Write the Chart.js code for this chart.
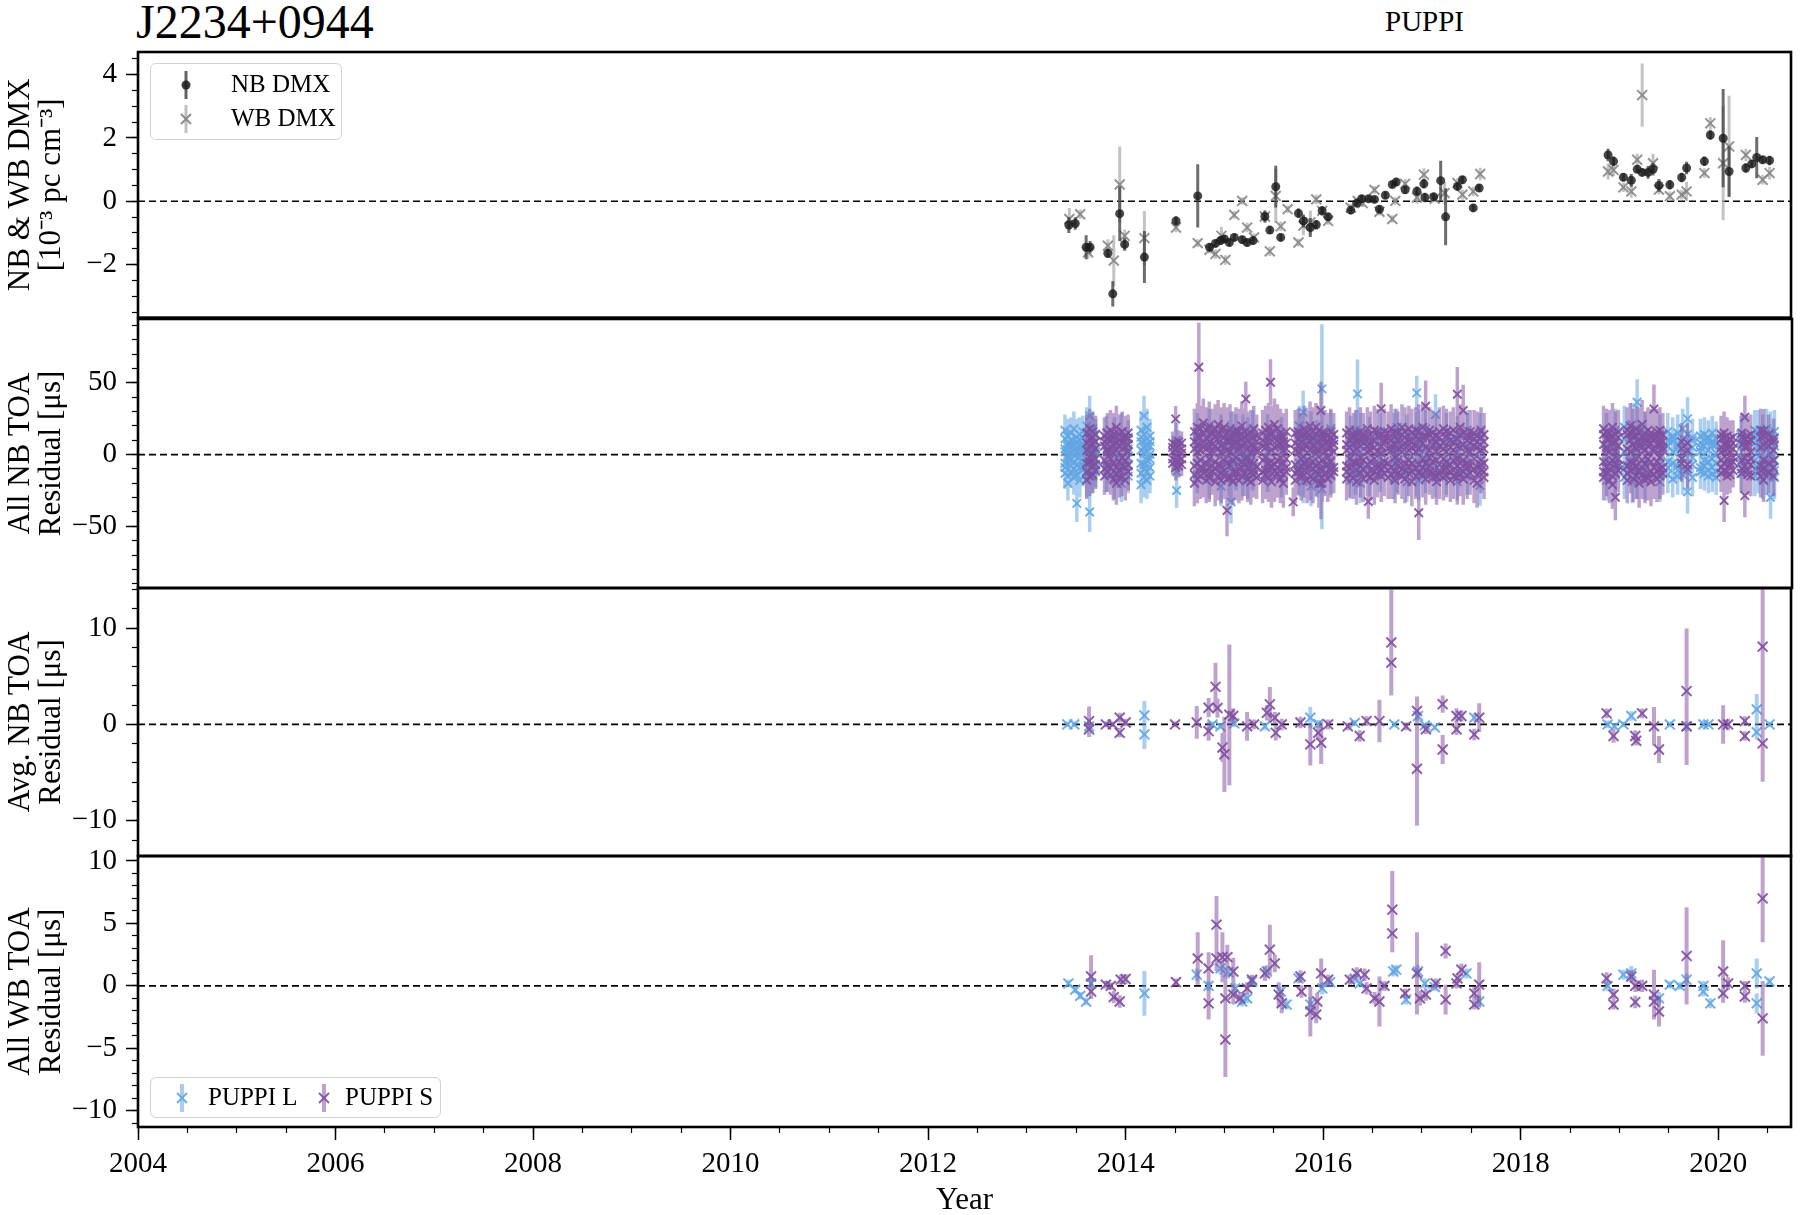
<!DOCTYPE html>
<html>
<head>
<meta charset="utf-8">
<script src="https://cdn.jsdelivr.net/npm/chart.js@4.4.1/dist/chart.umd.min.js"></script>
<style>
  body { margin: 0; background: #fff; width: 1800px; height: 1215px; position: relative; overflow: hidden; font-family: "Liberation Serif", serif; }
  canvas { position: absolute; left: 0; }
  .lbl { position: absolute; white-space: nowrap; color: #000; line-height: 1; }
  .legend { position: absolute; box-sizing: border-box; border: 1.5px solid #d2d2d2; border-radius: 6px; background: rgba(255,255,255,0.85); z-index: 5; }
  .legend span { position: absolute; font-size: 25px; line-height: 25px; white-space: nowrap; }
  .legend svg { position: absolute; left: 0; top: 0; }
</style>
</head>
<body>
<div class="lbl" style="left:136px; top:-2px; font-size:48px;">J2234+0944</div>
<div class="lbl" style="left:1385px; top:7px; font-size:29px;">PUPPI</div>

<canvas id="p1"></canvas>
<canvas id="p2"></canvas>
<canvas id="p3"></canvas>
<canvas id="p4"></canvas>

<div class="legend" style="left:150px; top:63px; width:192px; height:77px;">
  <svg width="192" height="77">
    <line x1="35" y1="7" x2="35" y2="35" stroke="rgba(60,60,60,0.8)" stroke-width="3"/>
    <circle cx="35" cy="21" r="4.5" fill="rgba(25,25,25,0.85)"/>
    <line x1="35" y1="41" x2="35" y2="69" stroke="rgba(175,175,175,0.8)" stroke-width="3"/>
    <path d="M30 50 L40 60 M40 50 L30 60" stroke="rgba(130,130,130,0.9)" stroke-width="2"/>
  </svg>
  <span style="left:80px; top:7px;">NB DMX</span>
  <span style="left:80px; top:41px;">WB DMX</span>
</div>

<div class="legend" style="left:150px; top:1077px; width:291px; height:41px;">
  <svg width="291" height="41">
    <line x1="31" y1="6" x2="31" y2="34" stroke="rgba(98,166,227,0.55)" stroke-width="4"/>
    <path d="M26 15 L36 25 M36 15 L26 25" stroke="rgba(98,166,227,0.9)" stroke-width="2"/>
    <line x1="173" y1="6" x2="173" y2="34" stroke="rgba(135,85,165,0.55)" stroke-width="4"/>
    <path d="M168 15 L178 25 M178 15 L168 25" stroke="rgba(128,80,160,0.9)" stroke-width="2"/>
  </svg>
  <span style="left:57px; top:6px;">PUPPI L</span>
  <span style="left:194px; top:6px;">PUPPI S</span>
</div>

<script>
// ---- panel 1: DMX (10^-3 pc cm^-3) ----
const dmxNB_t = [2013.425, 2013.49, 2013.60, 2013.64, 2013.82, 2013.87, 2013.94, 2013.99, 2014.19, 2014.51,
  2014.73, 2014.85, 2014.91, 2014.96, 2015.00, 2015.05, 2015.10, 2015.18, 2015.23, 2015.29,
  2015.41, 2015.46, 2015.52, 2015.57, 2015.75, 2015.80, 2015.87, 2015.93, 2015.99, 2016.05,
  2016.28, 2016.34, 2016.39, 2016.46, 2016.52, 2016.57, 2016.63, 2016.70, 2016.74, 2016.83,
  2016.95, 2017.02, 2017.03, 2017.12, 2017.19, 2017.24, 2017.36, 2017.41, 2017.52, 2017.58,
  2018.885, 2018.94, 2019.04, 2019.12, 2019.18, 2019.23, 2019.29, 2019.34, 2019.40, 2019.51,
  2019.63, 2019.68, 2019.86, 2019.92, 2020.05, 2020.11, 2020.28, 2020.34, 2020.39, 2020.45, 2020.52];
const dmxNB_v = [-0.75, -0.70, -1.45, -1.45, -1.64, -2.92, -0.39, -1.36, -1.76, -0.62,
  0.17, -1.45, -1.33, -1.24, -1.19, -1.30, -1.14, -1.21, -1.30, -1.24,
  -0.48, -0.91, 0.46, -1.14, -0.38, -0.62, -0.83, -0.74, -0.30, -0.49,
  -0.28, -0.06, 0.08, 0.08, 0.06, -0.25, 0.19, 0.53, 0.61, 0.36,
  0.32, 0.55, 0.12, 0.14, 0.65, -0.49, 0.47, 0.68, -0.21, 0.42,
  1.46, 1.26, 0.76, 0.66, 1.01, 0.91, 0.91, 1.01, 0.50, 0.52,
  0.75, 1.05, 1.26, 2.09, 1.99, 0.94, 1.05, 1.18, 1.38, 1.31, 1.29];
const dmxNB_e = [0.25, 0.2, 0.38, 0.2, 0.15, 0.4, 0.86, 0.2, 0.82, 0.15,
  1.0, 0.12, 0.12, 0.12, 0.12, 0.12, 0.12, 0.12, 0.12, 0.12,
  0.2, 0.12, 0.66, 0.12, 0.15, 0.2, 0.3, 0.15, 0.15, 0.12,
  0.12, 0.12, 0.12, 0.1, 0.1, 0.12, 0.12, 0.1, 0.12, 0.12,
  0.15, 0.15, 0.15, 0.12, 0.63, 0.9, 0.12, 0.12, 0.12, 0.12,
  0.2, 0.15, 0.12, 0.2, 0.12, 0.12, 0.2, 0.2, 0.2, 0.15,
  0.15, 0.2, 0.15, 0.15, 1.55, 0.8, 0.15, 0.12, 0.65, 0.12, 0.15];

const dmxWB_t = [2013.43, 2013.54, 2013.62, 2013.82, 2013.88, 2013.94, 2013.99, 2014.19, 2014.51, 2014.73,
  2014.85, 2014.91, 2014.97, 2015.01, 2015.10, 2015.18, 2015.23, 2015.30, 2015.41, 2015.46,
  2015.52, 2015.57, 2015.64, 2015.75, 2015.80, 2015.87, 2015.93, 2015.99, 2016.05, 2016.28,
  2016.35, 2016.40, 2016.52, 2016.57, 2016.70, 2016.73, 2016.83, 2016.95, 2017.02, 2017.13,
  2017.23, 2017.36, 2017.41, 2017.52, 2017.59, 2018.885, 2018.94, 2019.04, 2019.12, 2019.18,
  2019.23, 2019.34, 2019.40, 2019.51, 2019.63, 2019.68, 2019.86, 2019.92, 2020.05, 2020.11,
  2020.28, 2020.45, 2020.52];
const dmxWB_v = [-0.56, -0.41, -1.61, -1.40, -1.87, 0.53, -1.09, -1.16, -0.83, -1.32,
  -1.53, -1.66, -1.09, -1.85, -0.43, 0.01, -0.83, -1.14, -0.48, -1.58,
  0.17, -0.79, -0.25, -1.30, -0.77, -0.67, 0.06, -0.30, -0.62, -0.20,
  0.01, -0.06, 0.36, -0.33, -0.56, 0.01, 0.55, 0.12, 0.84, 0.08,
  0.26, 0.58, 0.21, 0.31, 0.86, 0.94, 0.99, 0.44, 0.31, 1.31,
  3.35, 1.20, 0.37, 0.16, 0.21, 0.31, 0.89, 2.46, 1.20, 1.73,
  1.46, 0.68, 0.89];
const dmxWB_e = [0.35, 0.15, 0.2, 0.2, 0.8, 1.2, 0.2, 0.85, 0.15, 0.12,
  0.12, 0.15, 0.28, 0.15, 0.12, 0.12, 0.15, 0.12, 0.15, 0.15,
  0.85, 0.15, 0.12, 0.12, 0.3, 0.37, 0.15, 0.12, 0.12, 0.12,
  0.12, 0.12, 0.12, 0.12, 0.12, 0.12, 0.15, 0.2, 0.2, 0.12,
  0.35, 0.15, 0.15, 0.15, 0.2, 0.25, 0.2, 0.15, 0.2, 0.2,
  1.0, 0.3, 0.15, 0.15, 0.15, 0.3, 0.15, 0.2, 1.8, 1.6,
  0.2, 0.15, 0.2];

// ---- panel 2: all narrowband TOA residuals (us), grouped by epoch ----
const nbL_t = [2013.38, 2013.41, 2013.44, 2013.47, 2013.50, 2013.53, 2013.56, 2013.60, 2013.63, 2013.66, 2013.69,
  2013.80, 2013.88, 2013.95, 2014.02,
  2014.15, 2014.18, 2014.21, 2014.24,
  2014.51,
  2014.72, 2014.84, 2014.96, 2015.04, 2015.06, 2015.11, 2015.18, 2015.23, 2015.28, 2015.43, 2015.57,
  2015.75, 2015.79, 2015.87, 2015.93, 2015.98, 2016.07,
  2016.27, 2016.32, 2016.37, 2016.46, 2016.57, 2016.71, 2016.74, 2016.84, 2016.94, 2016.96, 2017.03, 2017.13, 2017.24, 2017.35, 2017.45, 2017.58,
  2018.86, 2018.95, 2019.04, 2019.12, 2019.17, 2019.25, 2019.40, 2019.48, 2019.53, 2019.58, 2019.63, 2019.68, 2019.73,
  2019.81, 2019.85, 2019.89, 2019.93, 2019.97, 2020.22, 2020.36, 2020.39, 2020.44, 2020.48, 2020.52, 2020.56];
const nbL_e = [11, 12, 11, 12, 13, 12, 11, 13, 14, 12, 11,
  12, 13, 13, 12,
  13, 14, 13, 12,
  12,
  13, 14, 14, 13, 15, 13, 14, 13, 14, 13, 14,
  14, 15, 14, 13, 16, 13,
  13, 14, 14, 13, 13, 14, 13, 14, 14, 14, 13, 14, 13, 13, 14, 14,
  14, 15, 15, 15, 16, 15, 14, 13, 13, 13, 14, 15, 13, 12, 12, 12, 12, 12,
  13, 14, 15, 14, 14, 15, 15];
const nbL_r = [
  [4, -6, 11, -13, 2, 17, -9], [-3, 8, -15, 6, 13, -1, -20], [10, -8, 1, 15, -12, -4, 7], [-5, 3, 18, -10, 6, -16, 0],
  [2, -34, 12, -7, 9, -14, 5], [-9, 6, -2, 14, -18, 10, 1], [7, -11, 3, -5, 16, -8, 12], [-4, 9, -13, 5, 20, -17, 1],
  [27, -40, 8, -12, 3, 14, -6], [-7, 12, -2, 6, -15, 18, 0], [5, -9, 14, -3, 9, -12, 2],
  [-6, 10, -14, 3, 15, -9], [8, -12, 2, 13, -5, -18], [-3, 16, -10, 6, -20, 11], [4, -8, 12, -15, 7, -2],
  [9, -13, 3, 17, -6, -21, 12], [27, -7, 14, -16, 5, -10, 1], [-4, 11, -18, 6, 19, -12, 2], [6, -9, 13, -3, -15, 9, 0],
  [-25, 8, -12, 4, 10, -5],
  [5, -14, 10, -6, 16], [-9, 13, -3, 18, -17], [7, -10, 2, 14, -22], [-5, 11, -16, 4, 9], [-33, 6, 12, -8, 15],
  [3, -12, 15, -5, 8], [-7, 14, -2, 10, -15], [9, -4, 13, -18, 1], [-11, 6, 17, -9, 3], [6, -13, 2, 15, -6], [-8, 12, -16, 5, 9],
  [10, -6, 14, -15, 2, 20], [29.5, -8, 4, -19, 12, -3], [-5, 13, -22, 7, -10, 16], [8, -14, 3, 11, -17, 1],
  [-12, 6, 14, -24, 2], [-4, 10, -15, 5, 18, -9],
  [7, -11, 14, -3, 9, -18], [-6, 12, -14, 3, 17, -9], [9, -5, 15, -12, 2, -20], [-8, 4, 13, -16, 7, 10],
  [5, -13, 11, -2, 16, -7], [-10, 8, -4, 15, -17, 3], [12, -6, 2, -14, 9, 19], [-3, 14, -11, 6, -19, 10],
  [8, -9, 16, -5, 13, -15], [-12, 5, 10, -18, 3, 17], [4, -14, 12, -7, 18, -3], [28, -10, 7, -16, 2, 13],
  [-6, 11, -15, 5, 16, -11], [9, -4, 14, -13, 1, -19], [-8, 13, -2, 17, -14, 6], [-21.6, 7, 12, -9, 3, 15],
  [6, -12, 15, -5, 10, -18], [-9, 4, 17, -14, 8, -3], [11, -7, 2, -16, 19, -10], [-4, 14, -12, 7, -19, 21],
  [36.5, -8, 10, -15, 3, 16], [-6, 12, -17, 4, 15, -10], [8, -13, 3, 14, -7, -19], [-5, 10, -14, 6, 16, -9],
  [9, -6, 13, -17, 2, 11], [-11, 4, 15, -8, 7, -15], [6, -14, 11, -3, 18, -10], [24.9, -26, 8, -12, 14, 1],
  [-7, 12, -16, 5, 10, -2], [5, -9, 13, -12, 2, 8], [-8, 6, 14, -4, -13, 10], [10, -5, 3, -11, 12, -15],
  [-3, 9, -14, 7, 15, -9], [7, -12, 1, 11, -6, -16], [-6, 10, -13, 5, 14, -2], [8, -15, 12, -4, 17, -10],
  [-12, 5, 16, -9, 2, 13], [11, -7, -17, 6, 14, -3], [-5, 13, -10, 3, 18, -14], [-29.7, 9, -6, 15, 1, -12],
  [6, -11, 12, -4, 16, -16]];
// single L TOAs with their own large errors
const nbLx_t = [2015.98, 2015.98, 2016.34, 2016.94];
const nbLx_v = [45.8, -20, 42.3, 43];
const nbLx_e = [45, 32, 24, 12];

const nbS_t = [2013.60, 2013.63, 2013.66, 2013.69,
  2013.78, 2013.81, 2013.84, 2013.87, 2013.90, 2013.93, 2013.96, 2013.99, 2014.02,
  2014.47, 2014.50, 2014.53, 2014.56,
  2014.69, 2014.72, 2014.75, 2014.78, 2014.81, 2014.84, 2014.87, 2014.90, 2014.93, 2014.96, 2014.99,
  2015.02, 2015.05, 2015.08, 2015.11, 2015.14, 2015.17, 2015.20, 2015.23, 2015.26, 2015.29, 2015.32,
  2015.38, 2015.41, 2015.44, 2015.47, 2015.50, 2015.53, 2015.56, 2015.59, 2015.62,
  2015.71, 2015.74, 2015.77, 2015.80, 2015.83, 2015.86, 2015.89, 2015.92, 2015.95, 2015.98, 2016.01, 2016.04, 2016.07, 2016.10,
  2016.23, 2016.26, 2016.30, 2016.33, 2016.37, 2016.40, 2016.44, 2016.47, 2016.51, 2016.54, 2016.58, 2016.61, 2016.65, 2016.68,
  2016.72, 2016.75, 2016.79, 2016.82, 2016.86, 2016.89, 2016.93, 2016.96, 2017.00, 2017.03, 2017.07, 2017.10, 2017.14, 2017.17,
  2017.21, 2017.24, 2017.28, 2017.31, 2017.35, 2017.38, 2017.41, 2017.45, 2017.48, 2017.52, 2017.55, 2017.59, 2017.62,
  2018.83, 2018.86, 2018.89, 2018.92, 2018.95, 2018.98,
  2019.07, 2019.10, 2019.13, 2019.16, 2019.19, 2019.22, 2019.25, 2019.28, 2019.31, 2019.34, 2019.37, 2019.40, 2019.43,
  2019.62, 2019.68,
  2020.02, 2020.05, 2020.08, 2020.11, 2020.14,
  2020.23, 2020.26, 2020.29, 2020.32,
  2020.42, 2020.45, 2020.50, 2020.55];
const nbS_e = [13, 14, 13, 13,
  13, 14, 14, 15, 15, 14, 14, 14, 13,
  8, 9, 8, 8,
  16, 17, 16, 17, 16, 17, 16, 17, 17, 16, 17,
  18, 17, 16, 16, 16, 17, 16, 16, 16, 16, 15,
  16, 17, 17, 18, 18, 17, 17, 17, 16,
  16, 16, 16, 16, 16, 17, 17, 17, 17, 17, 16, 16, 16, 15,
  15, 16, 15, 16, 17, 16, 15, 16, 17, 16, 18, 16, 15, 17,
  16, 15, 16, 17, 16, 17, 16, 19, 16, 18, 16, 15, 16, 17,
  16, 16, 15, 16, 19, 16, 18, 16, 15, 16, 17, 16, 15,
  16, 16, 16, 17, 16, 15,
  16, 16, 16, 16, 17, 17, 16, 16, 17, 17, 16, 16, 15,
  13, 14,
  13, 15, 13, 13, 12,
  14, 15, 14, 14,
  15, 15, 14, 14];
const nbS_r = [
  [8, -12, 3, 15, -6, -18], [-5, 11, -15, 6, 18, -2], [12, -8, 1, -14, 7, 16], [-3, 9, -11, 14, -7, 4],
  [6, -10, 13, -4, 9, -15], [-8, 4, 15, -12, 2, 11], [10, -14, 5, -3, 17, -9], [-6, 12, -17, 7, 1, 14],
  [3, -9, 19, -13, 8, -20], [-11, 6, 14, -5, -16, 10], [9, -2, 16, -15, 4, -8], [-4, 13, -9, 5, -18, 12],
  [7, -12, 2, 11, -7, 15],
  [2, -6, 8, -3, 5], [24.9, -4, 7, -9, 3], [-5, 6, -2, 9, -8], [4, -7, 1, 8, -3],
  [9, -14, 4, 16, -8, -20], [-6, 13, -17, 7, 2, 19], [12, -9, 3, -15, 18, -4], [-10, 5, 15, -13, 8, 22],
  [4, -18, 11, -6, 17, -11], [-13, 9, -3, 20, -16, 6], [7, -8, 16, -12, 2, 14], [-5, 12, -19, 6, 18, -10],
  [11, -15, 4, 14, -7, 21], [-8, 6, -13, 17, 1, -18], [5, -11, 12, -4, 19, -14],
  [-39, 9, -6, 15, -17, 3], [13, -7, 2, -16, 10, 18], [-4, 14, -12, 6, -19, 11], [8, -13, 17, -2, 9, -16],
  [-10, 5, 13, -18, 3, 16], [6, -15, 11, -5, 20, -9], [-7, 12, -3, 16, -13, 8], [10, -9, 4, -17, 14, -2],
  [-5, 15, -12, 7, 1, -19], [12, -6, 18, -11, 5, -14], [-9, 4, 13, -16, 9, 2],
  [6, -12, 15, -4, -18, 10], [-11, 8, -2, 17, -14, 5], [9, -16, 12, -6, 19, -10], [-5, 14, -19, 3, 16, -8],
  [11, -7, 5, -15, 21, -12], [-13, 10, -4, 18, -9, 6], [7, -17, 13, -2, 15, -11], [-6, 12, -14, 9, 3, -20],
  [4, -9, 16, -12, 8, -3],
  [8, -13, 3, 15, -7, -18], [-10, 6, 16, -12, 2, 11], [5, -8, 13, -16, 9, -3], [-6, 14, -11, 4, 18, -14],
  [12, -4, 7, -18, 15, -9], [-8, 10, -15, 3, 13, 20], [6, -17, 11, -5, 16, -10], [-12, 4, 14, -8, 19, 1],
  [9, -6, 17, -14, 3, -20], [-4, 12, -10, 6, -16, 15], [11, -13, 2, 15, -7, 8], [-7, 9, -17, 4, 13, -2],
  [5, -11, 12, -5, 16, -14], [-9, 7, 14, -12, 2, 10],
  [7, -12, 3, 15, -8, -17], [-9, 10, -14, 5, 17, -3], [12, -5, 8, -16, 2, 14], [-6, 15, -11, 4, -19, 9],
  [10, -8, 16, -13, 6, -2], [-4, 11, -17, 8, 13, -10], [6, -14, 2, 18, -7, 12], [-11, 7, 14, -5, -16, 3],
  [9, -3, 17, -12, 5, -18], [-7, 13, -9, 2, 16, -14], [32, -10, 6, 14, -15, 1], [-5, 9, -13, 16, -8, 11],
  [11, -16, 4, -6, 15, -11], [-9, 6, 18, -14, 3, 10],
  [7, -12, 13, -2, -18, 16], [-13, 4, 10, -8, 15, -4], [5, -15, 14, -10, 2, 19], [-6, 12, -17, 8, 16, -11],
  [10, -4, 3, -13, 18, -8], [-12, 9, 15, -6, -19, 5], [6, -10, 13, -15, 2, 17], [-40.6, 11, -7, 16, 4, -13],
  [8, -14, 12, -3, 19, -9], [33.7, -6, 5, -17, 13, -11], [-8, 14, -12, 3, 17, -2], [11, -5, 7, -16, 15, -13],
  [-4, 13, -15, 9, 2, -19], [6, -11, 16, -7, 12, -14],
  [-10, 8, -3, 18, -16, 4], [13, -9, 2, -14, 16, -5], [-7, 15, -12, 5, 10, -18], [9, -4, 17, -11, 3, -15],
  [42, -8, 11, -16, 6, -2], [-13, 5, 14, -6, 19, -10], [30.7, -12, 7, -4, 15, -17], [-6, 10, -15, 3, 13, -9],
  [8, -13, 16, -8, 2, 12], [-10, 6, -18, 11, 15, -3], [5, -9, 13, -14, 9, -20], [-4, 12, -11, 17, -7, 3],
  [9, -6, 14, -12, 4, -16],
  [7, -12, 14, -5, 18, -16], [-9, 5, 16, -13, 3, 11], [11, -6, 2, -18, 15, -10], [-4, 13, -15, 8, 19, -21],
  [-29.7, 9, -7, 14, 2, -13], [6, -11, 12, -3, 16, -8],
  [-8, 14, -13, 4, 17, -18], [10, -5, 15, -11, 2, 20], [-6, 12, -17, 7, -10, 16], [13, -8, 4, -15, 18, -3],
  [-11, 6, 16, -12, 9, -20], [5, -14, 12, -4, 21, -9], [-7, 11, -18, 3, 14, 8], [9, -3, 17, -13, 6, -16],
  [-12, 8, -5, 15, -19, 12], [31.8, -9, 4, -14, 11, 2], [-5, 13, -11, 7, 16, -17], [8, -15, 10, -2, 17, -10],
  [-9, 5, 14, -13, 3, 9],
  [4, -6, 9, -3], [-7, 8, 3, -10],
  [5, -9, 11, -4, 14, -13, 2], [-32, 7, -6, 12, -11, 3, 15], [9, -3, 13, -12, 4, -15, 7], [-6, 10, -14, 2, 11, -8, 5],
  [4, -11, 8, -5, 12, -2],
  [7, -10, 12, -4, 15, -13], [26, -28.6, 5, -8, 11, -2], [-5, 13, -14, 6, 9, -11], [10, -7, 2, -15, 14, -3],
  [-8, 12, -11, 5, 17, -15], [16.7, -10, 7, -4, 13, -18], [6, -13, 14, -6, 10, -12], [-4, 9, -15, 11, 3, -9]];
const nbSx_t = [2014.735, 2015.21, 2015.46, 2015.69, 2015.97, 2015.97, 2016.45];
const nbSx_v = [60.9, 38.8, 50.4, -33, 30.7, -20, -32.7];
const nbSx_e = [31, 12, 16, 10, 20, 25, 12];

// ---- panel 3: epoch-averaged narrowband residuals (us) ----
const avgL_t = [2013.41, 2013.48, 2013.63, 2014.19, 2014.19, 2014.88, 2014.96, 2015.10, 2015.41, 2015.87,
  2015.95, 2016.32, 2016.72, 2016.96, 2017.03, 2017.13, 2017.53, 2018.88, 2018.95, 2019.04,
  2019.12, 2019.51, 2019.68, 2019.85, 2019.90, 2020.39, 2020.39, 2020.52];
const avgL_v = [0, 0, -0.2, 0.93, -1.04, 0, -0.2, 0.1, -0.2, 0.7,
  0.05, 0.15, 0, 0.87, -0.1, -0.3, 0.7, 0, -0.2, 0,
  0.87, 0, -0.2, 0, 0, 1.56, -0.8, 0];
const avgL_e = [0.3, 0.3, 0.3, 1.5, 1.5, 0.3, 0.3, 0.4, 0.4, 1.1,
  0.4, 0.3, 0.3, 0.5, 0.3, 0.3, 0.4, 0.4, 0.3, 0.3,
  0.5, 0.3, 0.5, 0.4, 0.3, 1.6, 0.8, 0.3];
const avgS_t = [2013.63, 2013.63, 2013.80, 2013.87, 2013.94, 2013.94, 2014.00, 2014.50, 2014.72, 2014.84,
  2014.84, 2014.91, 2014.93, 2014.98, 2015.00, 2015.05, 2015.09, 2015.23, 2015.30, 2015.43,
  2015.46, 2015.51, 2015.52, 2015.58, 2015.77, 2015.87, 2015.95, 2015.98, 2016.05, 2016.25,
  2016.37, 2016.44, 2016.57, 2016.69, 2016.69, 2016.84, 2016.95, 2016.95, 2017.04, 2017.21,
  2017.21, 2017.35, 2017.35, 2017.40, 2017.53, 2017.58, 2018.87, 2018.94, 2019.16, 2019.17,
  2019.23, 2019.35, 2019.40, 2019.68, 2019.68, 2020.05, 2020.10, 2020.27, 2020.27, 2020.45, 2020.45];
const avgS_v = [0.35, -0.5, 0, 0, 0.7, -0.87, 0.2, 0, 0.2, 1.73,
  -0.7, 3.9, 1.7, -2.4, -3.1, 1.0, 0.87, -0.2, 0, 1.2,
  2.08, 0.7, -0.87, 0, 0.2, -2.07, -0.87, -1.9, 0, -0.2,
  -1.2, 0.35, 0.35, 8.5, 6.4, -0.2, 1.4, -4.6, -0.5, 2.1,
  -2.6, 0.87, -0.5, 0.87, -1.04, 0.7, 1.14, -1.2, -1.2, -1.7,
  1.14, -0.2, -2.6, 3.46, -0.2, 0, 0, 0.35, -1.2, 8.06, -1.97];
const avgS_e = [1.5, 0.8, 0.3, 0.3, 0.5, 0.5, 0.4, 0.3, 1.7, 1.0,
  1.0, 2.5, 1.0, 1.5, 3.9, 7.3, 0.8, 1.5, 0.5, 0.8,
  1.8, 0.6, 0.8, 0.6, 0.6, 2.2, 0.7, 2.2, 0.5, 0.4,
  0.6, 0.5, 2.2, 5.5, 3.1, 0.4, 1.5, 5.9, 0.5, 0.9,
  1.5, 0.8, 0.6, 0.6, 0.6, 1.5, 0.5, 0.7, 0.6, 0.5,
  0.5, 2.0, 1.4, 6.5, 4.0, 2.0, 0.6, 0.5, 0.5, 14, 0.8];

// ---- panel 4: wideband residuals (us) ----
const wbL_t = [2013.42, 2013.49, 2013.54, 2013.60, 2013.65, 2014.19, 2014.72, 2014.84, 2014.96, 2015.04,
  2015.11, 2015.18, 2015.23, 2015.28, 2015.43, 2015.57, 2015.63, 2015.75, 2015.87, 2015.99,
  2016.07, 2016.32, 2016.37, 2016.71, 2016.74, 2016.84, 2016.96, 2017.03, 2017.13, 2017.45,
  2017.58, 2018.88, 2019.04, 2019.12, 2019.40, 2019.51, 2019.61, 2019.68, 2019.85, 2019.85,
  2019.92, 2020.39, 2020.39, 2020.52];
const wbL_v = [0.2, -0.3, -0.8, -1.25, 0.2, -0.6, 0.9, 0, 1.4, 1.1,
  -0.2, -1.25, -1.0, 0.35, 1.15, -0.45, -1.5, 0.6, -1.5, -0.2,
  0.3, 0.6, 0.2, 1.15, 1.3, -1.1, 1.15, 0.2, -0.1, 1.0,
  -1.25, 0, 0.9, 1.0, -1.0, 0.1, 0, 0.5, 0, -0.45,
  -1.4, 1.0, -1.4, 0.35];
const wbL_e = [0.3, 0.3, 0.3, 0.3, 0.4, 1.8, 0.5, 0.4, 0.5, 0.5,
  0.4, 0.4, 0.4, 0.4, 0.5, 0.4, 0.4, 0.4, 0.6, 0.5,
  0.4, 0.4, 0.3, 0.4, 0.4, 0.4, 0.5, 0.4, 0.3, 0.4,
  0.5, 0.4, 0.4, 0.6, 0.5, 0.3, 0.3, 0.5, 0.4, 0.4,
  0.4, 1.2, 0.8, 0.3];
const wbS_t = [2013.65, 2013.65, 2013.80, 2013.85, 2013.88, 2013.94, 2013.95, 2014.00, 2014.51, 2014.73,
  2014.84, 2014.84, 2014.92, 2014.92, 2014.98, 2015.01, 2015.01, 2015.03, 2015.09, 2015.09,
  2015.16, 2015.23, 2015.28, 2015.41, 2015.46, 2015.51, 2015.55, 2015.58, 2015.77, 2015.78,
  2015.87, 2015.93, 2015.94, 2015.98, 2016.05, 2016.27, 2016.34, 2016.42, 2016.44, 2016.52,
  2016.57, 2016.62, 2016.70, 2016.70, 2016.83, 2016.95, 2016.98, 2017.04, 2017.14, 2017.24,
  2017.24, 2017.35, 2017.36, 2017.40, 2017.53, 2017.53, 2017.58, 2018.87, 2018.94, 2018.94,
  2019.12, 2019.16, 2019.16, 2019.23, 2019.35, 2019.35, 2019.40, 2019.68, 2020.05, 2020.05,
  2020.10, 2020.27, 2020.27, 2020.45, 2020.45];
const wbS_v = [0.75, -0.45, 0.1, 0, -0.9, -1.25, 0.5, 0.55, 0.3, 2.2,
  1.4, -1.4, 4.9, 2.2, 2.3, -1.0, -4.3, 2.3, 1.15, -0.7,
  -1.0, -0.2, 0.5, 1.0, 2.9, 1.8, -0.7, -1.4, 0.75, -0.45,
  -2.05, -2.3, -1.25, 1.0, 0.5, 0.5, 1.0, 0.9, -0.2, -1.0,
  -1.25, 0, 6.1, 4.2, -0.6, 1.0, -1.0, -0.7, 0.2, 2.8,
  -1.1, 0.2, 0.6, 1.3, -0.6, -1.5, 0.1, 0.6, -0.7, -1.5,
  0.75, 0, -1.3, 0, -0.7, -1.25, -2.05, 2.4, 1.15, -0.6,
  0.2, 0, -0.85, 7.0, -2.6];
const wbS_e = [1.7, 0.6, 0.3, 0.3, 0.5, 0.5, 0.4, 0.4, 0.3, 2.1,
  1.3, 1.3, 2.3, 1.0, 2.0, 2.5, 3.0, 1.0, 1.1, 0.8,
  0.5, 0.5, 0.4, 0.6, 2.0, 0.7, 1.0, 0.8, 0.5, 0.5,
  2.0, 0.7, 0.7, 1.2, 0.4, 0.4, 0.5, 0.5, 0.5, 0.5,
  2.0, 0.4, 3.1, 1.5, 0.4, 3.3, 0.6, 0.5, 0.4, 0.6,
  1.2, 0.4, 0.4, 0.5, 0.5, 0.4, 1.8, 0.5, 0.5, 0.4,
  0.5, 0.5, 0.5, 0.5, 2.0, 0.8, 1.2, 3.9, 2.5, 0.5,
  0.5, 0.4, 0.5, 3.5, 3.0];

const xMin = 2004, xMax = 2020.737;
const F = 'Liberation Serif';
Chart.defaults.font.family = F;
Chart.defaults.color = '#000';

const L_BAR = 'rgba(98,166,227,0.55)', L_MK = 'rgba(98,166,227,0.9)';
const S_BAR = 'rgba(135,85,165,0.55)', S_MK = 'rgba(128,80,160,0.9)';

function pts(t, v) {
  return t.map((x, i) => ({ x: x, y: v[i] }));
}
// error bars as vertical segments separated by gaps
function bars(t, v, e) {
  const out = [];
  t.forEach((x, i) => {
    out.push({ x: x, y: v[i] - e[i] }, { x: x, y: v[i] + e[i] }, { x: x, y: null });
  });
  return out;
}
function flatten(t, r, e, xt, xv, xe) {
  const T = [], V = [], E = [];
  r.forEach((row, j) => row.forEach(val => { T.push(t[j]); V.push(val); E.push(e[j]); }));
  xt.forEach((x, i) => { T.push(x); V.push(xv[i]); E.push(xe[i]); });
  return { T, V, E };
}

function barSet(t, v, e, color, width, order) {
  return { data: bars(t, v, e), borderColor: color, borderWidth: width, pointRadius: 0,
    spanGaps: false, order: order, clip: 0, xAxisID: 'x', yAxisID: 'y' };
}
function markSet(t, v, style, radius, color, order) {
  return { data: pts(t, v), showLine: false, pointStyle: style, pointRadius: radius,
    pointBorderWidth: style === 'circle' ? 0 : 2, pointBorderColor: color,
    pointBackgroundColor: style === 'circle' ? color : 'rgba(0,0,0,0)',
    order: order, clip: 0, xAxisID: 'x', yAxisID: 'y' };
}
function zeroLine() {
  return { data: [{ x: xMin, y: 0 }, { x: xMax, y: 0 }], borderColor: '#000', borderWidth: 1.6,
    borderDash: [7, 4], pointRadius: 0, order: 20, xAxisID: 'x', yAxisID: 'y' };
}

function fmt(v) {
  return String(Math.round(v * 100) / 100).replace('-', '\u2212');
}

const framePlugin = {
  id: 'frame',
  afterDraw(chart) {
    const { ctx, chartArea: a } = chart;
    ctx.save();
    ctx.strokeStyle = '#000';
    ctx.lineWidth = 2.6;
    ctx.strokeRect(a.left, a.top, a.right - a.left, a.bottom - a.top);
    ctx.restore();
  }
};

// areaTop / areaBottom: page rows where the plot frame should sit
function makePanel(id, top, height, areaTop, areaBottom, yr, showX, datasets) {
  const cv = document.getElementById(id);
  cv.width = 1800;
  cv.height = height;
  cv.style.top = top + 'px';
  const padTop = areaTop - top;
  const padBottom = showX ? 0 : top + height - areaBottom;
  const chart = new Chart(cv, {
    type: 'line',
    data: { datasets: datasets },
    options: {
      responsive: false,
      animation: false,
      devicePixelRatio: 1,
      events: [],
      layout: { padding: { left: 0, right: 5, top: padTop, bottom: padBottom } },
      plugins: { legend: { display: false }, tooltip: { enabled: false } },
      scales: {
        x: {
          type: 'linear', position: 'bottom', min: xMin, max: xMax, weight: 1, display: showX,
          ticks: { stepSize: 2, includeBounds: false, autoSkip: false, maxRotation: 0, padding: 7,
            font: { size: 29 }, color: '#000', callback: v => String(v) },
          grid: { drawOnChartArea: false, tickLength: 13, tickWidth: 1.5, tickColor: '#000' },
          border: { display: false },
          title: { display: true, text: 'Year', font: { size: 31, lineHeight: 0.9 }, color: '#000', padding: 0 },
          afterFit: s => { s.height = showX ? top + height - areaBottom : 0; }
        },
        xm: {
          type: 'linear', position: 'bottom', min: xMin, max: xMax, weight: 0, display: showX,
          ticks: { display: false, stepSize: 0.5, includeBounds: false, autoSkip: false },
          grid: { drawOnChartArea: false, tickLength: 6, tickWidth: 1.2, tickColor: '#000' },
          border: { display: false },
          afterFit: s => { s.height = 0; }
        },
        y: {
          type: 'linear', position: 'left', min: yr.min, max: yr.max, weight: 1,
          ticks: { stepSize: yr.major, includeBounds: false, autoSkip: false, padding: 9,
            font: { size: 29 }, color: '#000', callback: v => fmt(v) },
          grid: { drawOnChartArea: false, tickLength: 12, tickWidth: 1.5, tickColor: '#000' },
          border: { display: false },
          title: { display: true, text: yr.title, font: { size: 31, lineHeight: 1.0 }, color: '#000',
            padding: { top: 5, bottom: 0 } },
          afterFit: s => { s.width = 138; }
        },
        ym: {
          type: 'linear', position: 'left', min: yr.min, max: yr.max, weight: 0,
          ticks: { display: false, stepSize: yr.minor, includeBounds: false, autoSkip: false },
          grid: { drawOnChartArea: false, tickLength: 6, tickWidth: 1.2, tickColor: '#000' },
          border: { display: false },
          afterFit: s => { s.width = 0; }
        }
      }
    },
    plugins: [framePlugin]
  });
  // nudge the padding so the frame lands exactly on the wanted rows
  const a = chart.chartArea;
  const dTop = areaTop - (top + a.top);
  const dBot = (top + a.bottom) - areaBottom;
  if (Math.abs(dTop) > 0.5 || Math.abs(dBot) > 0.5) {
    chart.options.layout.padding = { left: 0, right: 5, top: padTop + dTop, bottom: padBottom + dBot };
    chart.update();
  }
  return chart;
}

// panel rows on the page
const rows = [52, 319, 588, 856, 1127];

makePanel('p1', 22, 322, rows[0], rows[1],
  { min: -3.67, max: 4.71, major: 2, minor: 0.5, title: ['NB & WB DMX', '[10\u207B\u00B3 pc cm\u207B\u00B3]'] }, false, [
  zeroLine(),
  barSet(dmxWB_t, dmxWB_v, dmxWB_e, 'rgba(175,175,175,0.75)', 3, 9),
  markSet(dmxWB_t, dmxWB_v, 'crossRot', 7, 'rgba(130,130,130,0.85)', 8),
  barSet(dmxNB_t, dmxNB_v, dmxNB_e, 'rgba(60,60,60,0.75)', 3, 7),
  markSet(dmxNB_t, dmxNB_v, 'circle', 4.5, 'rgba(25,25,25,0.8)', 6)
]);

const nbL = flatten(nbL_t, nbL_r, nbL_e, nbLx_t, nbLx_v, nbLx_e);
const nbS = flatten(nbS_t, nbS_r, nbS_e, nbSx_t, nbSx_v, nbSx_e);
makePanel('p2', 289, 329, rows[1], rows[2],
  { min: -93, max: 94.5, major: 50, minor: 10, title: ['All NB TOA', 'Residual [\u03BCs]'] }, false, [
  zeroLine(),
  barSet(nbL.T, nbL.V, nbL.E, L_BAR, 3.5, 9),
  markSet(nbL.T, nbL.V, 'crossRot', 6, L_MK, 8),
  barSet(nbS.T, nbS.V, nbS.E, S_BAR, 3.5, 7),
  markSet(nbS.T, nbS.V, 'crossRot', 6, S_MK, 6)
]);

makePanel('p3', 558, 328, rows[2], rows[3],
  { min: -13.65, max: 14.15, major: 10, minor: 2, title: ['Avg. NB TOA', 'Residual [\u03BCs]'] }, false, [
  zeroLine(),
  barSet(avgL_t, avgL_v, avgL_e, L_BAR, 4, 9),
  markSet(avgL_t, avgL_v, 'crossRot', 7, L_MK, 8),
  barSet(avgS_t, avgS_v, avgS_e, S_BAR, 4, 7),
  markSet(avgS_t, avgS_v, 'crossRot', 7, S_MK, 6)
]);

makePanel('p4', 826, 1215 - 826, rows[3], rows[4],
  { min: -11.3, max: 10.4, major: 5, minor: 1, title: ['All WB TOA', 'Residual [\u03BCs]'] }, true, [
  zeroLine(),
  barSet(wbL_t, wbL_v, wbL_e, L_BAR, 4, 9),
  markSet(wbL_t, wbL_v, 'crossRot', 7, L_MK, 8),
  barSet(wbS_t, wbS_v, wbS_e, S_BAR, 4, 7),
  markSet(wbS_t, wbS_v, 'crossRot', 7, S_MK, 6)
]);
</script>
</body>
</html>
